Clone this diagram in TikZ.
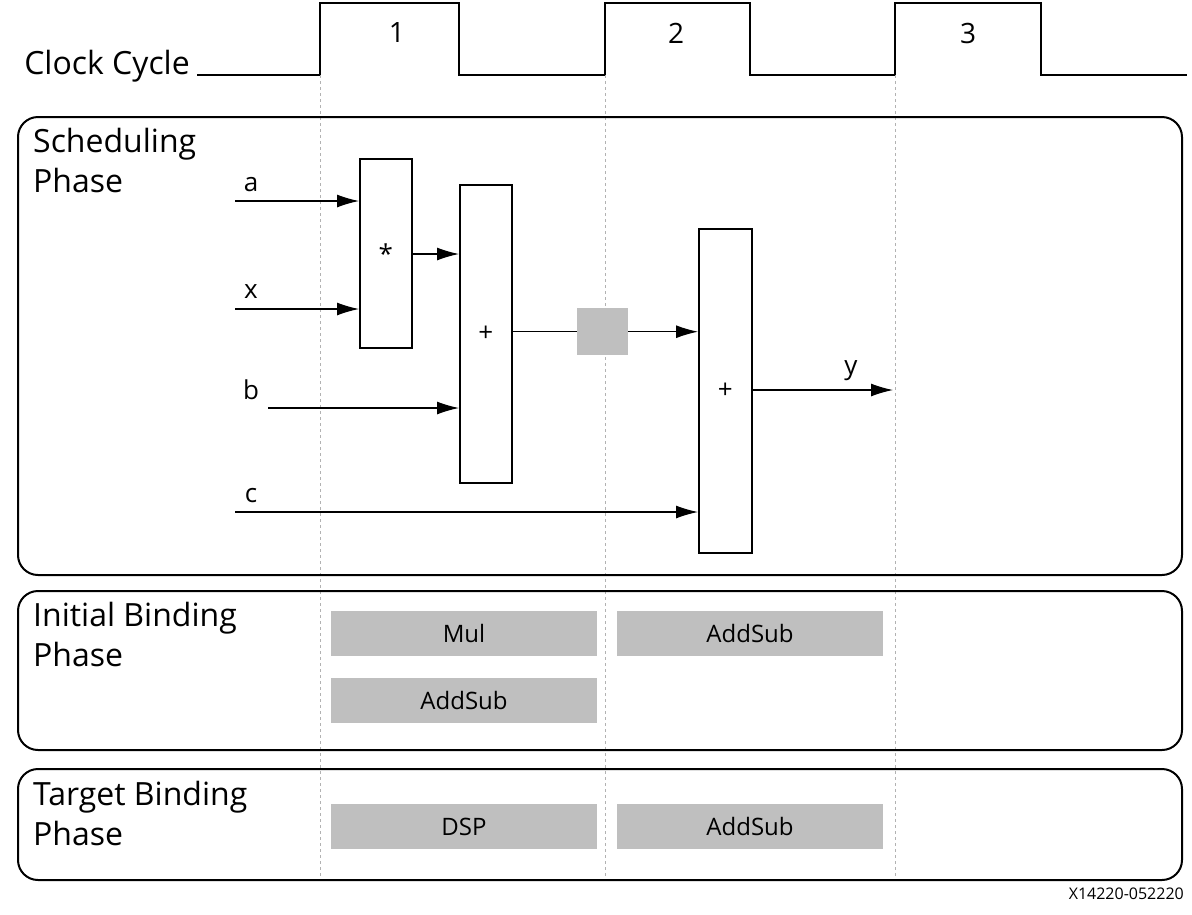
\documentclass[tikz,border=0pt]{standalone}
\usepackage{fontspec}
\setmainfont{Open Sans}
\usetikzlibrary{arrows.meta}
\begin{document}
\begin{tikzpicture}[x=1pt,y=-1pt,
  op/.style={draw,line width=1.5pt,fill=white,inner sep=0pt,font=\fontsize{26}{30}\selectfont},
  bar/.style={fill=black!25,inner sep=0pt,minimum width=266pt,minimum height=45pt,font=\fontsize{24}{28}\selectfont},
  panel/.style={draw,line width=2pt,rounded corners=20pt},
  arr/.style={line width=1.1pt,-{Latex[length=22pt,width=13pt]}},
  lbl/.style={font=\fontsize{26}{30}\selectfont,inner sep=0pt},
  title/.style={font=\fontsize{32}{40}\selectfont,align=left,anchor=north west,inner sep=0pt}]
\useasboundingbox (0,0) rectangle (1192,914);
% clock
\draw[line width=1.5pt] (197,75) -- (320,75) -- (320,3) -- (459,3) -- (459,75) -- (605,75) -- (605,3) -- (750,3) -- (750,75) -- (895,75) -- (895,3) -- (1041,3) -- (1041,75) -- (1187,75);
\node[title,anchor=east] (clk) at (190,66) {Clock Cycle};
\node[lbl,font=\fontsize{28}{32}\selectfont] (c1) at (397,33) {1};
\node[lbl,font=\fontsize{28}{32}\selectfont] (c2) at (676,33) {2};
\node[lbl,font=\fontsize{28}{32}\selectfont] (c3) at (968,33) {3};
\foreach \x in {320,605,895} \draw[black!30,dashed,line width=0.8pt] (\x,75) -- (\x,878);
% panels
\draw[panel] (18,117) rectangle (1182,575);
\draw[panel] (18,591) rectangle (1182,750);
\draw[panel] (18,769) rectangle (1182,880);
\node[title] (t1) at (33,128) {Scheduling\\Phase};
\node[title] (t2) at (33,602) {Initial Binding\\Phase};
\node[title] (t3) at (33,781) {Target Binding\\Phase};
% ops
\node[op,minimum width=52pt,minimum height=189pt,anchor=north west] (mul) at (359,158) {*};
\node[op,minimum width=52pt,minimum height=298pt,anchor=north west] (add1) at (459,184) {+};
\node[fill=black!25,minimum width=51pt,minimum height=47pt,inner sep=0pt,anchor=north west] (reg) at (577,308) {};
\node[op,minimum width=53pt,minimum height=324pt,anchor=north west] (add2) at (698,228) {+};
\coordinate (ia) at (235,201);
\coordinate (ix) at (235,309);
\coordinate (ib) at (268,408);
\coordinate (ic) at (235,512);
\coordinate (oy) at (893,390);
\draw[arr] (ia) -- (ia-|mul.west);
\draw[arr] (ix) -- (ix-|mul.west);
\draw[arr] (mul.east|-0,254) -- (add1.west|-0,254);
\draw[arr] (ib) -- (ib-|add1.west);
\draw[line width=1.1pt] (add1.east|-reg) -- (reg.west);
\draw[arr] (reg.east) -- (add2.west|-reg);
\draw[arr] (ic) -- (ic-|add2.west);
\draw[arr] (add2.east|-oy) -- (oy);
\node[lbl] (la) at (251,185) {a};
\node[lbl] (lx) at (251,292) {x};
\node[lbl] (lb) at (251,390) {b};
\node[lbl] (lc) at (251,496) {c};
\node[lbl] (ly) at (851,371) {y};
% bars
\node[bar] (b1) at (464,633.5) {Mul};
\node[bar] (b2) at (750,633.5) {AddSub};
\node[bar] (b3) at (464,700.5) {AddSub};
\node[bar] (b4) at (464,826.5) {DSP};
\node[bar] (b5) at (750,826.5) {AddSub};
\node[font=\fontsize{16}{18}\selectfont,anchor=east,inner sep=0pt] (id) at (1184,894) {X14220-052220};
\end{tikzpicture}
\end{document}
